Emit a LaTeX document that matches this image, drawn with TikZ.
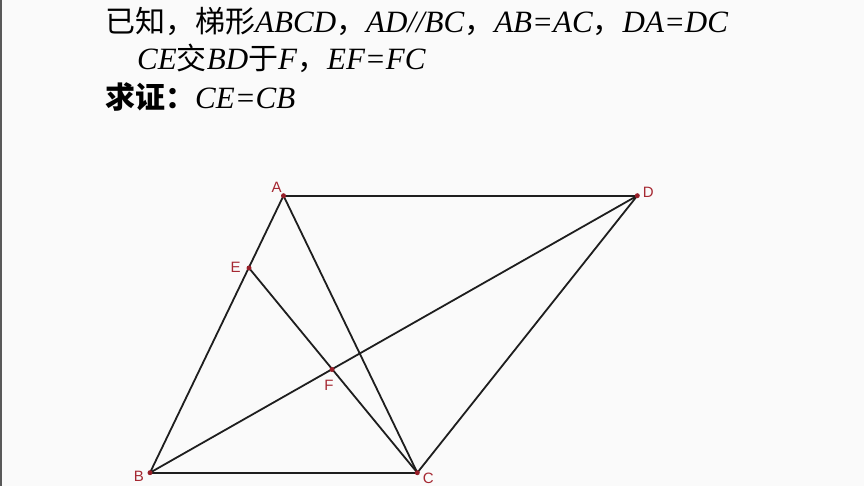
\documentclass[tikz,border=0pt]{standalone}
\usepackage{fontspec}
\setmainfont{Liberation Serif}
\newfontfamily\cjk{Noto Sans CJK SC}
\newfontfamily\lblfont{Liberation Sans}
\definecolor{bgc}{RGB}{250,250,250}
\definecolor{ptred}{RGB}{150,30,40}
\definecolor{lbred}{RGB}{165,40,50}
\definecolor{edgec}{RGB}{30,30,30}
\newcommand{\lt}[1]{{\fontsize{31}{31}\selectfont\itshape #1}}
\begin{document}
\begin{tikzpicture}[x=1pt,y=-1pt,
  seg/.style={draw=edgec,line width=1.8pt},
  pt/.style={circle,fill=ptred,inner sep=0pt,minimum size=5pt},
  lbl/.style={font=\lblfont\fontsize{15}{15}\selectfont,text=lbred,inner sep=0pt},
  txt/.style={anchor=base west,inner sep=0pt,font=\fontsize{30}{30}\selectfont}]
\useasboundingbox (0,0) rectangle (864,486);
\fill[bgc] (0,0) rectangle (864,486);
\draw[gray!70!black,line width=2pt] (1,0) -- (1,486);
% text
\node[txt] (t1) at (105,33) {{\cjk 已知，梯形}\lt{ABCD}{\cjk ，}\lt{AD//BC}{\cjk ，}\lt{AB=AC}{\cjk ，}\lt{DA=DC}};
\node[txt] (t2) at (137,70) {\lt{CE}{\cjk 交}\lt{BD}{\cjk 于}\lt{F}{\cjk ，}\lt{EF=FC}};
\node[txt] (t3) at (105,109) {{\cjk\bfseries 求证：}\lt{CE=CB}};
% points
\coordinate (A) at (283.5,195.7);
\coordinate (D) at (637.3,195.7);
\coordinate (E) at (249,268);
\coordinate (F) at (332,369.5);
\coordinate (B) at (150,472.7);
\coordinate (C) at (417.3,472.7);
\draw[seg] (A) -- (D);
\draw[seg] (B) -- (C);
\draw[seg] (A) -- (B);
\draw[seg] (A) -- (C);
\draw[seg] (D) -- (C);
\draw[seg] (B) -- (D);
\draw[seg] (E) -- (C);
\foreach \p in {A,D,E,F,B,C} \node[pt] (p\p) at (\p) {};
\node[lbl] (lA) at (276.7,187.3) {A};
\node[lbl] (lD) at (648.3,192.7) {D};
\node[lbl] (lE) at (235.7,267.3) {E};
\node[lbl] (lF) at (329,385) {F};
\node[lbl] (lB) at (139,476) {B};
\node[lbl] (lC) at (428.3,478.5) {C};
\end{tikzpicture}
\end{document}
